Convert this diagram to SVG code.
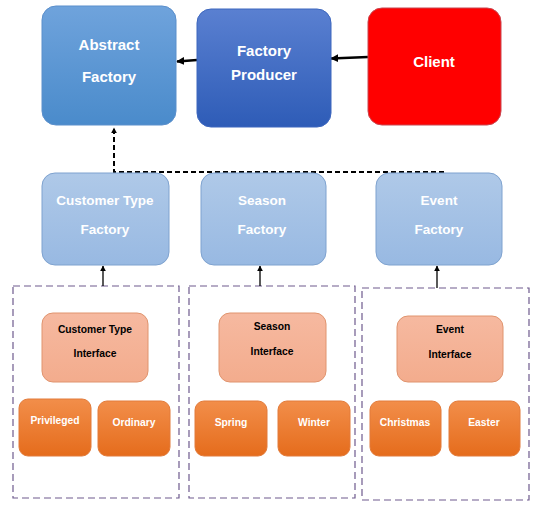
<svg xmlns="http://www.w3.org/2000/svg" width="543" height="510" viewBox="0 0 543 510">
<defs>
<linearGradient id="gAbs" x1="0" y1="0" x2="0" y2="1"><stop offset="0" stop-color="#6FA3DC"/><stop offset="1" stop-color="#4A8BCB"/></linearGradient>
<linearGradient id="gProd" x1="0" y1="0" x2="0" y2="1"><stop offset="0" stop-color="#5A80D1"/><stop offset="1" stop-color="#2E5CB7"/></linearGradient>
<linearGradient id="gFac" x1="0" y1="0" x2="0" y2="1"><stop offset="0" stop-color="#AFC9E8"/><stop offset="1" stop-color="#98B9E2"/></linearGradient>
<linearGradient id="gInt" x1="0" y1="0" x2="0" y2="1"><stop offset="0" stop-color="#F6B9A0"/><stop offset="1" stop-color="#F3AC8D"/></linearGradient>
<linearGradient id="gOr" x1="0" y1="0" x2="0" y2="1"><stop offset="0" stop-color="#F28E4A"/><stop offset="1" stop-color="#E56C1C"/></linearGradient>
<marker id="ah" viewBox="0 0 10 10" refX="9" refY="5" markerWidth="6" markerHeight="6" orient="auto" markerUnits="userSpaceOnUse"><path d="M0,0 L10,5 L0,10 z" fill="#000"/></marker>
<marker id="ahL" viewBox="0 0 10 10" refX="9" refY="5" markerWidth="8" markerHeight="8" orient="auto" markerUnits="userSpaceOnUse"><path d="M0,0 L10,5 L0,10 z" fill="#000"/></marker>
</defs>
<style>
.t{font-family:"Liberation Sans",Arial,sans-serif;font-weight:bold;text-anchor:middle;}
.w{fill:#fff;}
.k{fill:#000;}
.big{font-size:15px;}
.mid{font-size:13.5px;}
.sm{font-size:10.3px;}
.grp{fill:none;stroke:#6E5A8E;stroke-width:1.2;stroke-dasharray:7,4;}
.con{stroke:#000;fill:none;}
</style>
<rect width="543" height="510" fill="#fff"/>

<g id="group-customer"><rect class="grp" x="13" y="286" width="166" height="212"/></g>
<g id="group-season"><rect class="grp" x="189" y="286" width="166" height="212"/></g>
<g id="group-event"><rect class="grp" x="362" y="288" width="167" height="212"/></g>

<g id="connectors">
<line class="con" x1="197" y1="60" x2="177" y2="61.5" stroke-width="2.5" marker-end="url(#ahL)"/>
<line class="con" x1="368" y1="57" x2="331" y2="58.5" stroke-width="2.5" marker-end="url(#ahL)"/>
<polyline class="con" points="444,172 114,172 114,128" stroke-width="2" stroke-dasharray="5,3" marker-end="url(#ah)"/>
<line class="con" x1="103" y1="286" x2="103" y2="266" stroke-width="1.3" marker-end="url(#ah)"/>
<line class="con" x1="260" y1="286" x2="260" y2="266" stroke-width="1.3" marker-end="url(#ah)"/>
<line class="con" x1="437" y1="288" x2="437" y2="266" stroke-width="1.3" marker-end="url(#ah)"/>
</g>

<g id="abstract-factory">
<rect x="42" y="6" width="134" height="119" rx="14" fill="url(#gAbs)" stroke="#5B8FCB" stroke-width="1"/>
<text class="t w big" x="109" y="50">Abstract</text>
<text class="t w big" x="109" y="82">Factory</text>
</g>
<g id="factory-producer">
<rect x="197" y="9" width="134" height="118" rx="14" fill="url(#gProd)" stroke="#3C66BE" stroke-width="1"/>
<text class="t w big" x="264" y="56">Factory</text>
<text class="t w big" x="264" y="80">Producer</text>
</g>
<g id="client">
<rect x="368" y="8" width="133" height="117" rx="14" fill="#FF0000" stroke="#C84650" stroke-width="1"/>
<text class="t w big" x="434" y="67">Client</text>
</g>

<g id="customer-type-factory">
<rect x="42" y="173" width="127" height="92" rx="13" fill="url(#gFac)" stroke="#7EA2CF" stroke-width="1"/>
<text class="t w mid" x="105" y="205">Customer Type</text>
<text class="t w mid" x="105" y="234">Factory</text>
</g>
<g id="season-factory">
<rect x="201" y="173" width="125" height="92" rx="13" fill="url(#gFac)" stroke="#7EA2CF" stroke-width="1"/>
<text class="t w mid" x="262" y="205">Season</text>
<text class="t w mid" x="262" y="234">Factory</text>
</g>
<g id="event-factory">
<rect x="376" y="173" width="126" height="92" rx="13" fill="url(#gFac)" stroke="#7EA2CF" stroke-width="1"/>
<text class="t w mid" x="439" y="205">Event</text>
<text class="t w mid" x="439" y="234">Factory</text>
</g>

<g id="customer-type-interface">
<rect x="42" y="313" width="106" height="69" rx="11" fill="url(#gInt)" stroke="#E0946E" stroke-width="1"/>
<text class="t k sm" x="95" y="333">Customer Type</text>
<text class="t k sm" x="95" y="357">Interface</text>
</g>
<g id="season-interface">
<rect x="219" y="313" width="107" height="69" rx="11" fill="url(#gInt)" stroke="#E0946E" stroke-width="1"/>
<text class="t k sm" x="272" y="330">Season</text>
<text class="t k sm" x="272" y="355">Interface</text>
</g>
<g id="event-interface">
<rect x="397" y="316" width="106" height="66" rx="11" fill="url(#gInt)" stroke="#E0946E" stroke-width="1"/>
<text class="t k sm" x="450" y="333">Event</text>
<text class="t k sm" x="450" y="358">Interface</text>
</g>

<g id="privileged">
<rect x="19" y="399" width="72" height="57" rx="9" fill="url(#gOr)" stroke="#E27B3A" stroke-width="1"/>
<text class="t w sm" x="55" y="424">Privileged</text>
</g>
<g id="ordinary">
<rect x="98" y="401" width="72" height="55" rx="9" fill="url(#gOr)" stroke="#E27B3A" stroke-width="1"/>
<text class="t w sm" x="134" y="426">Ordinary</text>
</g>
<g id="spring">
<rect x="195" y="401" width="72" height="55" rx="9" fill="url(#gOr)" stroke="#E27B3A" stroke-width="1"/>
<text class="t w sm" x="231" y="426">Spring</text>
</g>
<g id="winter">
<rect x="278" y="401" width="72" height="55" rx="9" fill="url(#gOr)" stroke="#E27B3A" stroke-width="1"/>
<text class="t w sm" x="314" y="426">Winter</text>
</g>
<g id="christmas">
<rect x="370" y="401" width="71" height="55" rx="9" fill="url(#gOr)" stroke="#E27B3A" stroke-width="1"/>
<text class="t w sm" x="405" y="426">Christmas</text>
</g>
<g id="easter">
<rect x="449" y="401" width="71" height="55" rx="9" fill="url(#gOr)" stroke="#E27B3A" stroke-width="1"/>
<text class="t w sm" x="484" y="426">Easter</text>
</g>
</svg>
